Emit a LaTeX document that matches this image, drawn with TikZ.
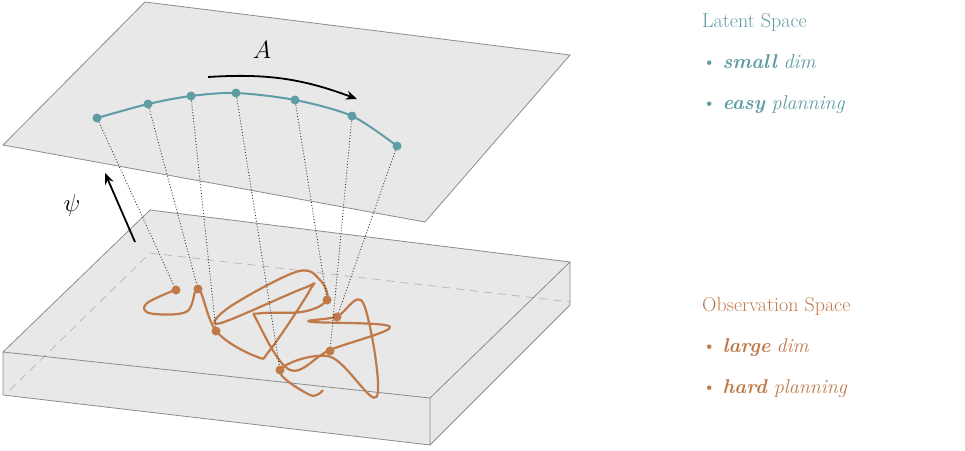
\documentclass[tikz,border=0pt]{standalone}
\usepackage{fontspec}
\usetikzlibrary{arrows.meta}
\definecolor{teal1}{HTML}{5E9DA3}
\definecolor{orng}{HTML}{C07A4A}
\definecolor{pl}{HTML}{E8E8E8}
\begin{document}
\begin{tikzpicture}[x=1pt,y=-1pt,
  plane/.style={fill=pl,draw=gray!90,line width=0.8pt},
  hid/.style={draw=gray!55,dashed,dash pattern=on 8pt off 6pt,line width=0.8pt},
  lat/.style={circle,fill=teal1,inner sep=0pt,minimum size=9pt},
  obs/.style={circle,fill=orng,inner sep=0pt,minimum size=9pt},
  proj/.style={dotted,line width=0.9pt,black!80},
  txt/.style={font=\fontsize{20}{41}\selectfont,anchor=west,align=left,inner sep=0pt}]
\useasboundingbox (0,0) rectangle (965,450);
% slab
\fill[pl] (3,352) -- (150,210) -- (570,262) -- (570,305) -- (430,445) -- (3,395) -- cycle;
\draw[hid] (10,390) -- (150,253) -- (570,302);
\draw[gray!90,line width=0.8pt] (3,352) -- (150,210) -- (570,262) -- (430,398) -- cycle;
\draw[gray!90,line width=0.8pt] (3,352) -- (3,395) -- (430,445) -- (430,398);
\draw[gray!90,line width=0.8pt] (430,445) -- (570,305) -- (570,262);
% observation curve
\draw[orng,line width=2.2pt,line join=round] plot[smooth,tension=0.6] coordinates{
(176.7,289.3)(146.7,303.3)(150,313.3)(186.7,311.7)(198.3,288.3)(216.7,331.7)(256.7,356.7)(270,350)(310,290)(303.3,288.3)(220,323.3)(230,306.7)(296.7,271.7)(320,280)(326.7,300)(303.3,311.7)(260,313.3)(256.7,320)(290,370)(330,350)(390,326.7)(310,321.7)(336.7,316.7)(363.3,303.3)(376.7,396.7)(330,356.7)(280,370)(310,395)(323,390)};
\node[obs] (o1) at (176,290) {};
\node[obs] (o2) at (198,289) {};
\node[obs] (o3) at (216,331) {};
\node[obs] (o4) at (280,370) {};
\node[obs] (o5) at (327,300) {};
\node[obs] (o6) at (330,351) {};
\node[obs] (o7) at (337,317) {};
% top plane
\draw[plane] (3,145) -- (145,2) -- (570,55) -- (425,222) -- cycle;
\draw[teal1,line width=2pt] plot[smooth,tension=0.5] coordinates{(97,118)(148,104)(191,96)(236,93)(295,100)(352,116)(397,146)};
\node[lat] (l1) at (97,118) {};
\node[lat] (l2) at (148,104) {};
\node[lat] (l3) at (191,96) {};
\node[lat] (l4) at (236,93) {};
\node[lat] (l5) at (295,100) {};
\node[lat] (l6) at (352,116) {};
\node[lat] (l7) at (397,146) {};
% projections
\foreach \a/\b in {l1/o1,l2/o2,l3/o3,l4/o4,l5/o5,l6/o6,l7/o7}
  \draw[proj] (\a) -- (\b);
% arrows
\coordinate (a1) at (208,77);
\coordinate (a2) at (357,99);
\draw[-{Stealth[length=11pt,width=9pt]},line width=1.8pt] (a1) to[bend left=12] (a2);
\node[font=\fontsize{30}{30}\selectfont] (A) at (262,50) {$A$};
\coordinate (p1) at (135,242);
\coordinate (p2) at (105,173);
\draw[-{Stealth[length=11pt,width=9pt]},line width=1.8pt] (p1) -- (p2);
\node[font=\fontsize{30}{30}\selectfont] (psi) at (72,205) {$\psi$};
% texts
\node[txt,text=teal1] (lt) at (702,64) {Latent Space\\ \textbullet\ \textbf{\textit{small}} \textit{dim}\\ \textbullet\ \textbf{\textit{easy}} \textit{planning}};
\node[txt,text=orng] (ot) at (702,348) {Observation Space\\ \textbullet\ \textbf{\textit{large}} \textit{dim}\\ \textbullet\ \textbf{\textit{hard}} \textit{planning}};
\end{tikzpicture}
\end{document}
